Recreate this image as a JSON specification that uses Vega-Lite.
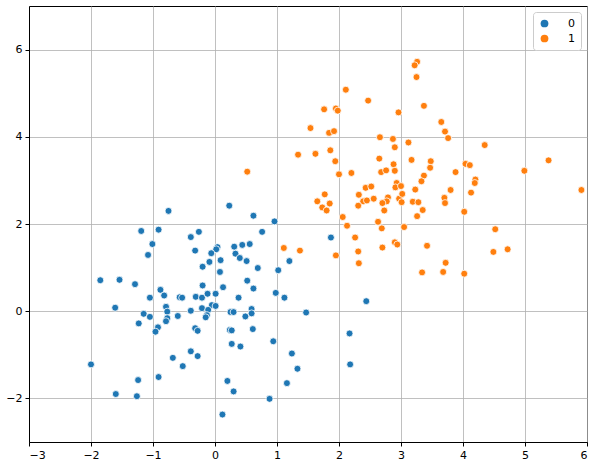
{
  "$schema": "https://vega.github.io/schema/vega-lite/v6.json",
  "width": 558,
  "height": 436,
  "autosize": {"type": "none"},
  "padding": {"left": 29, "top": 6, "right": 10, "bottom": 24},
  "background": "white",
  "config": {
    "view": {"stroke": "black", "strokeWidth": 1},
    "font": "DejaVu Sans",
    "axis": {
      "domainColor": "black",
      "tickColor": "black",
      "tickSize": 4,
      "labelColor": "black",
      "labelFontSize": 11,
      "labelPadding": 3,
      "gridColor": "#b0b0b0",
      "gridWidth": 0.8,
      "title": null
    }
  },
  "data": {
    "values": [
      {"x": -0.75, "y": 2.30, "c": "0"}, {"x": 0.23, "y": 2.42, "c": "0"}, {"x": -1.19, "y": 1.84, "c": "0"}, {"x": -0.91, "y": 1.87, "c": "0"},
      {"x": -1.01, "y": 1.54, "c": "0"}, {"x": -1.08, "y": 1.29, "c": "0"}, {"x": -0.39, "y": 1.70, "c": "0"}, {"x": -0.26, "y": 1.82, "c": "0"},
      {"x": -0.32, "y": 1.39, "c": "0"}, {"x": 0.04, "y": 1.47, "c": "0"}, {"x": 0.02, "y": 1.42, "c": "0"}, {"x": -0.06, "y": 1.33, "c": "0"},
      {"x": 0.09, "y": 1.17, "c": "0"}, {"x": -0.09, "y": 1.13, "c": "0"}, {"x": -0.20, "y": 1.02, "c": "0"}, {"x": 0.08, "y": 0.90, "c": "0"},
      {"x": -1.85, "y": 0.71, "c": "0"}, {"x": -1.54, "y": 0.72, "c": "0"}, {"x": -1.29, "y": 0.62, "c": "0"}, {"x": 0.13, "y": 0.55, "c": "0"},
      {"x": -0.20, "y": 0.59, "c": "0"}, {"x": -0.88, "y": 0.49, "c": "0"}, {"x": -0.82, "y": 0.36, "c": "0"}, {"x": -1.05, "y": 0.31, "c": "0"},
      {"x": -0.57, "y": 0.32, "c": "0"}, {"x": -0.53, "y": 0.31, "c": "0"}, {"x": -0.31, "y": 0.33, "c": "0"}, {"x": -0.21, "y": 0.31, "c": "0"},
      {"x": -0.12, "y": 0.40, "c": "0"}, {"x": 0.01, "y": 0.40, "c": "0"}, {"x": -0.05, "y": 0.14, "c": "0"}, {"x": 0.01, "y": 0.12, "c": "0"},
      {"x": -0.21, "y": 0.07, "c": "0"}, {"x": -0.11, "y": 0.03, "c": "0"}, {"x": -0.39, "y": 0.01, "c": "0"}, {"x": -0.79, "y": 0.10, "c": "0"},
      {"x": -0.77, "y": -0.01, "c": "0"}, {"x": -1.61, "y": 0.08, "c": "0"}, {"x": -1.15, "y": -0.06, "c": "0"}, {"x": -1.05, "y": -0.13, "c": "0"},
      {"x": -0.77, "y": -0.16, "c": "0"}, {"x": -0.79, "y": -0.23, "c": "0"}, {"x": -0.60, "y": -0.11, "c": "0"}, {"x": -0.13, "y": -0.09, "c": "0"},
      {"x": -0.15, "y": -0.14, "c": "0"}, {"x": -1.23, "y": -0.28, "c": "0"}, {"x": -0.92, "y": -0.37, "c": "0"}, {"x": -0.96, "y": -0.47, "c": "0"},
      {"x": -0.32, "y": -0.39, "c": "0"}, {"x": -0.28, "y": -0.45, "c": "0"}, {"x": -0.39, "y": -0.92, "c": "0"}, {"x": -0.28, "y": -1.03, "c": "0"},
      {"x": -0.68, "y": -1.07, "c": "0"}, {"x": -0.52, "y": -1.26, "c": "0"}, {"x": -2.00, "y": -1.22, "c": "0"}, {"x": -1.24, "y": -1.58, "c": "0"},
      {"x": -0.91, "y": -1.51, "c": "0"}, {"x": -1.60, "y": -1.90, "c": "0"}, {"x": -1.26, "y": -1.95, "c": "0"}, {"x": 0.20, "y": -1.60, "c": "0"},
      {"x": 0.12, "y": -2.37, "c": "0"}, {"x": 0.62, "y": 2.19, "c": "0"}, {"x": 0.96, "y": 2.06, "c": "0"}, {"x": 0.76, "y": 1.82, "c": "0"},
      {"x": 1.20, "y": 1.15, "c": "0"}, {"x": 0.31, "y": 1.48, "c": "0"}, {"x": 0.44, "y": 1.52, "c": "0"}, {"x": 0.56, "y": 1.54, "c": "0"},
      {"x": 0.33, "y": 1.32, "c": "0"}, {"x": 0.40, "y": 1.22, "c": "0"}, {"x": 0.51, "y": 1.15, "c": "0"}, {"x": 0.69, "y": 0.99, "c": "0"},
      {"x": 1.02, "y": 0.94, "c": "0"}, {"x": 0.52, "y": 0.70, "c": "0"}, {"x": 0.62, "y": 0.52, "c": "0"}, {"x": 0.98, "y": 0.42, "c": "0"},
      {"x": 1.12, "y": 0.31, "c": "0"}, {"x": 0.38, "y": 0.31, "c": "0"}, {"x": 0.25, "y": -0.02, "c": "0"}, {"x": 0.30, "y": -0.02, "c": "0"},
      {"x": 0.49, "y": -0.12, "c": "0"}, {"x": 0.59, "y": 0.05, "c": "0"}, {"x": 0.59, "y": -0.05, "c": "0"}, {"x": 1.47, "y": -0.03, "c": "0"},
      {"x": 0.24, "y": -0.43, "c": "0"}, {"x": 0.27, "y": -0.44, "c": "0"}, {"x": 0.61, "y": -0.41, "c": "0"}, {"x": 0.27, "y": -0.75, "c": "0"},
      {"x": 0.41, "y": -0.81, "c": "0"}, {"x": 0.94, "y": -0.69, "c": "0"}, {"x": 1.24, "y": -0.97, "c": "0"}, {"x": 1.33, "y": -1.32, "c": "0"},
      {"x": 1.16, "y": -1.65, "c": "0"}, {"x": 0.30, "y": -1.84, "c": "0"}, {"x": 0.88, "y": -2.01, "c": "0"}, {"x": 1.87, "y": 1.69, "c": "0"},
      {"x": 2.44, "y": 0.23, "c": "0"}, {"x": 2.17, "y": -0.51, "c": "0"}, {"x": 2.18, "y": -1.22, "c": "0"},
      {"x": 0.52, "y": 3.20, "c": "1"}, {"x": 1.11, "y": 1.45, "c": "1"}, {"x": 1.37, "y": 1.39, "c": "1"}, {"x": 3.26, "y": 5.72, "c": "1"},
      {"x": 3.22, "y": 5.64, "c": "1"}, {"x": 3.25, "y": 5.37, "c": "1"}, {"x": 2.11, "y": 5.08, "c": "1"}, {"x": 2.47, "y": 4.83, "c": "1"},
      {"x": 3.37, "y": 4.71, "c": "1"}, {"x": 1.76, "y": 4.63, "c": "1"}, {"x": 1.95, "y": 4.65, "c": "1"}, {"x": 1.98, "y": 4.60, "c": "1"},
      {"x": 2.96, "y": 4.56, "c": "1"}, {"x": 1.54, "y": 4.20, "c": "1"}, {"x": 1.84, "y": 4.09, "c": "1"}, {"x": 1.92, "y": 4.13, "c": "1"},
      {"x": 2.66, "y": 3.99, "c": "1"}, {"x": 2.87, "y": 3.95, "c": "1"}, {"x": 3.12, "y": 3.87, "c": "1"}, {"x": 2.90, "y": 3.76, "c": "1"},
      {"x": 1.34, "y": 3.59, "c": "1"}, {"x": 1.62, "y": 3.61, "c": "1"}, {"x": 1.86, "y": 3.69, "c": "1"}, {"x": 1.94, "y": 3.44, "c": "1"},
      {"x": 2.65, "y": 3.50, "c": "1"}, {"x": 2.88, "y": 3.37, "c": "1"}, {"x": 3.17, "y": 3.47, "c": "1"}, {"x": 3.48, "y": 3.44, "c": "1"},
      {"x": 3.47, "y": 3.29, "c": "1"}, {"x": 2.00, "y": 3.14, "c": "1"}, {"x": 2.20, "y": 3.17, "c": "1"}, {"x": 2.68, "y": 3.19, "c": "1"},
      {"x": 2.76, "y": 3.23, "c": "1"}, {"x": 2.90, "y": 3.22, "c": "1"}, {"x": 3.37, "y": 3.11, "c": "1"}, {"x": 3.33, "y": 2.98, "c": "1"},
      {"x": 2.93, "y": 2.94, "c": "1"}, {"x": 2.91, "y": 2.84, "c": "1"}, {"x": 3.00, "y": 2.87, "c": "1"}, {"x": 3.23, "y": 2.79, "c": "1"},
      {"x": 2.43, "y": 2.83, "c": "1"}, {"x": 2.52, "y": 2.86, "c": "1"}, {"x": 2.32, "y": 2.67, "c": "1"}, {"x": 1.77, "y": 2.68, "c": "1"},
      {"x": 1.65, "y": 2.52, "c": "1"}, {"x": 1.85, "y": 2.47, "c": "1"}, {"x": 1.73, "y": 2.38, "c": "1"}, {"x": 1.80, "y": 2.31, "c": "1"},
      {"x": 2.39, "y": 2.52, "c": "1"}, {"x": 2.45, "y": 2.54, "c": "1"}, {"x": 2.31, "y": 2.42, "c": "1"}, {"x": 2.56, "y": 2.58, "c": "1"},
      {"x": 2.79, "y": 2.61, "c": "1"}, {"x": 2.77, "y": 2.52, "c": "1"}, {"x": 2.70, "y": 2.48, "c": "1"}, {"x": 2.97, "y": 2.58, "c": "1"},
      {"x": 3.01, "y": 2.50, "c": "1"}, {"x": 3.02, "y": 2.69, "c": "1"}, {"x": 3.19, "y": 2.51, "c": "1"}, {"x": 3.28, "y": 2.50, "c": "1"},
      {"x": 3.35, "y": 2.32, "c": "1"}, {"x": 3.26, "y": 2.18, "c": "1"}, {"x": 2.73, "y": 2.31, "c": "1"}, {"x": 2.06, "y": 2.16, "c": "1"},
      {"x": 2.13, "y": 1.96, "c": "1"}, {"x": 2.63, "y": 2.05, "c": "1"}, {"x": 2.69, "y": 1.90, "c": "1"}, {"x": 3.05, "y": 1.93, "c": "1"},
      {"x": 2.26, "y": 1.69, "c": "1"}, {"x": 2.31, "y": 1.37, "c": "1"}, {"x": 1.95, "y": 1.28, "c": "1"}, {"x": 2.70, "y": 1.46, "c": "1"},
      {"x": 2.90, "y": 1.58, "c": "1"}, {"x": 2.94, "y": 1.53, "c": "1"}, {"x": 3.42, "y": 1.50, "c": "1"}, {"x": 2.32, "y": 1.10, "c": "1"},
      {"x": 3.34, "y": 0.89, "c": "1"}, {"x": 3.65, "y": 4.34, "c": "1"}, {"x": 3.71, "y": 4.12, "c": "1"}, {"x": 3.76, "y": 3.97, "c": "1"},
      {"x": 4.35, "y": 3.81, "c": "1"}, {"x": 4.04, "y": 3.38, "c": "1"}, {"x": 4.11, "y": 3.35, "c": "1"}, {"x": 5.38, "y": 3.46, "c": "1"},
      {"x": 4.99, "y": 3.22, "c": "1"}, {"x": 3.88, "y": 3.19, "c": "1"}, {"x": 4.20, "y": 3.02, "c": "1"}, {"x": 4.19, "y": 2.94, "c": "1"},
      {"x": 3.80, "y": 2.78, "c": "1"}, {"x": 4.13, "y": 2.72, "c": "1"}, {"x": 5.91, "y": 2.78, "c": "1"}, {"x": 3.70, "y": 2.60, "c": "1"},
      {"x": 3.71, "y": 2.48, "c": "1"}, {"x": 4.02, "y": 2.28, "c": "1"}, {"x": 4.52, "y": 1.88, "c": "1"}, {"x": 4.49, "y": 1.36, "c": "1"},
      {"x": 4.72, "y": 1.42, "c": "1"}, {"x": 3.72, "y": 1.11, "c": "1"}, {"x": 3.68, "y": 0.90, "c": "1"}, {"x": 4.02, "y": 0.86, "c": "1"}
    ]
  },
  "mark": {"type": "point", "filled": true, "size": 48, "stroke": "white", "strokeWidth": 0.8, "opacity": 1},
  "encoding": {
    "x": {
      "field": "x", "type": "quantitative",
      "scale": {"domain": [-3, 6], "nice": false, "zero": false},
      "axis": {"values": [-3, -2, -1, 0, 1, 2, 3, 4, 5, 6], "grid": true}
    },
    "y": {
      "field": "y", "type": "quantitative",
      "scale": {"domain": [-3, 7], "nice": false, "zero": false},
      "axis": {"values": [-2, 0, 2, 4, 6], "grid": true}
    },
    "color": {
      "field": "c", "type": "nominal",
      "scale": {"domain": ["0", "1"], "range": ["#1f77b4", "#ff7f0e"]},
      "legend": {
        "title": null,
        "orient": "top-right",
        "offset": 6,
        "symbolType": "circle",
        "symbolSize": 60,
        "symbolStrokeWidth": 0,
        "labelFontSize": 11,
        "labelColor": "black",
        "padding": 6,
        "rowPadding": 3,
        "strokeColor": "#cccccc",
        "fillColor": "white",
        "cornerRadius": 3,
        "labelOffset": 18
      }
    }
  }
}
